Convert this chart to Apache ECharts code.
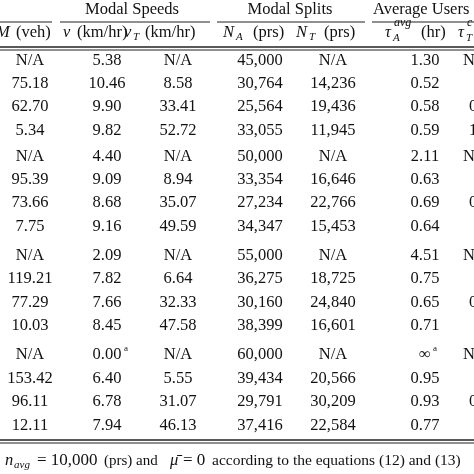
<!DOCTYPE html><html><head><meta charset="utf-8">
<script src="https://cdn.jsdelivr.net/npm/echarts@6/dist/echarts.min.js"></script>
<style>html,body{margin:0;padding:0;background:#fff}#c{width:474px;height:474px}</style></head><body><div id="c"></div>
<script>
const colM   = ["N/A","75.18","62.70","5.34","N/A","95.39","73.66","7.75","N/A","119.21","77.29","10.03","N/A","153.42","96.11","12.11"];
const colV   = ["5.38","10.46","9.90","9.82","4.40","9.09","8.68","9.16","2.09","7.82","7.66","8.45","0.00","6.40","6.78","7.94"];
const colVT  = ["N/A","8.58","33.41","52.72","N/A","8.94","35.07","49.59","N/A","6.64","32.33","47.58","N/A","5.55","31.07","46.13"];
const colNA  = ["45,000","30,764","25,564","33,055","50,000","33,354","27,234","34,347","55,000","36,275","30,160","38,399","60,000","39,434","29,791","37,416"];
const colNT  = ["N/A","14,236","19,436","11,945","N/A","16,646","22,766","15,453","N/A","18,725","24,840","16,601","N/A","20,566","30,209","22,584"];
const colTau = ["1.30","0.52","0.58","0.59","2.11","0.63","0.69","0.64","4.51","0.75","0.65","0.71","∞","0.95","0.93","0.77"];
const colLast= ["N/A","","0.6","1.2","N/A","","0.7","","N/A","","0.7","","N/A","","0.9",""];
const supA   = [12,12];
const groupHeads = ["Modal Speeds","Modal Splits","Average Users"];
const footer = "according to the equations (12) and (13)";

const F = "'Liberation Serif','DejaVu Serif',serif";
const FS = '16.5px ';
const rowY = [61,84,107,131,157,180,203,227,256,279,303,326,355,379,402,426];
const colX = [30,107,178,260,333,425,466];
const g = [];
function t(x,y,s,o){g.push({type:'text',x:x,y:y,style:Object.assign({text:s,font:FS+F,fill:'#111',textAlign:'center',textVerticalAlign:'middle'},o||{})});}
function ln(x1,x2,y,w){g.push({type:'line',shape:{x1:x1,y1:y,x2:x2,y2:y},style:{stroke:'#222',lineWidth:w}});}
const cols=[colM,colV,colVT,colNA,colNT,colTau];
cols.forEach((c,ci)=>c.forEach((v,ri)=>t(colX[ci],rowY[ri],v)));
colLast.forEach((v,ri)=>{ if(v) t(v==='N/A'?463:469,rowY[ri],v,{textAlign:'left'});});
t(colX[1]+19,rowY[supA[0]]-6,'a',{font:'9px '+F});
t(colX[5]+10,rowY[supA[1]]-6,'a',{font:'9px '+F});
t(132,10,groupHeads[0]); t(290,10,groupHeads[1]); t(373,10,groupHeads[2],{textAlign:'left'});
ln(0,52,22,1.2); ln(60,210,22,1.2); ln(217,365,22,1.2); ln(372,474,22,1.2);
const it={font:'italic '+FS+F};
const sub=o=>Object.assign({textAlign:'left',font:'italic 11px '+F},o||{});
t(-4,33,'M',Object.assign({textAlign:'left'},it)); t(16,33,'(veh)',{textAlign:'left'});
t(63,33,'v',Object.assign({textAlign:'left'},it)); t(77,33,'(km/hr)',{textAlign:'left'});
t(124,33,'v',Object.assign({textAlign:'left'},it)); t(133,37,'T',sub()); t(145,33,'(km/hr)',{textAlign:'left'});
t(223,33,'N',Object.assign({textAlign:'left'},it)); t(236,37,'A',sub()); t(253,33,'(prs)',{textAlign:'left'});
t(296,33,'N',Object.assign({textAlign:'left'},it)); t(309,37,'T',sub()); t(324,33,'(prs)',{textAlign:'left'});
t(385,33,'τ',Object.assign({textAlign:'left'},it)); t(393,38,'A',sub()); t(394,23,'avg',sub({font:'italic 12px '+F})); t(421,33,'(hr)',{textAlign:'left'});
t(458,33,'τ',Object.assign({textAlign:'left'},it)); t(466,38,'T',sub()); t(467,23,'c',sub({font:'italic 12px '+F}));
ln(0,474,47,1.5); ln(0,474,50,1);
ln(0,474,440,1.5); ln(0,474,443,1);
t(5,461,'n',Object.assign({textAlign:'left'},it)); t(14,465,'avg',sub());
t(37,461,'= 10,000',{textAlign:'left',font:'17px '+F}); t(104,461,'(prs) and',{textAlign:'left',font:'15px '+F});
t(170,461,'μ̄',Object.assign({textAlign:'left'},it)); t(183,461,'= 0',{textAlign:'left',font:'17px '+F});
t(212,461,footer,{textAlign:'left',font:'15.5px '+F});
const ch=echarts.init(document.getElementById('c'));
ch.setOption({animation:false,graphic:{elements:g}});
</script></body></html>
